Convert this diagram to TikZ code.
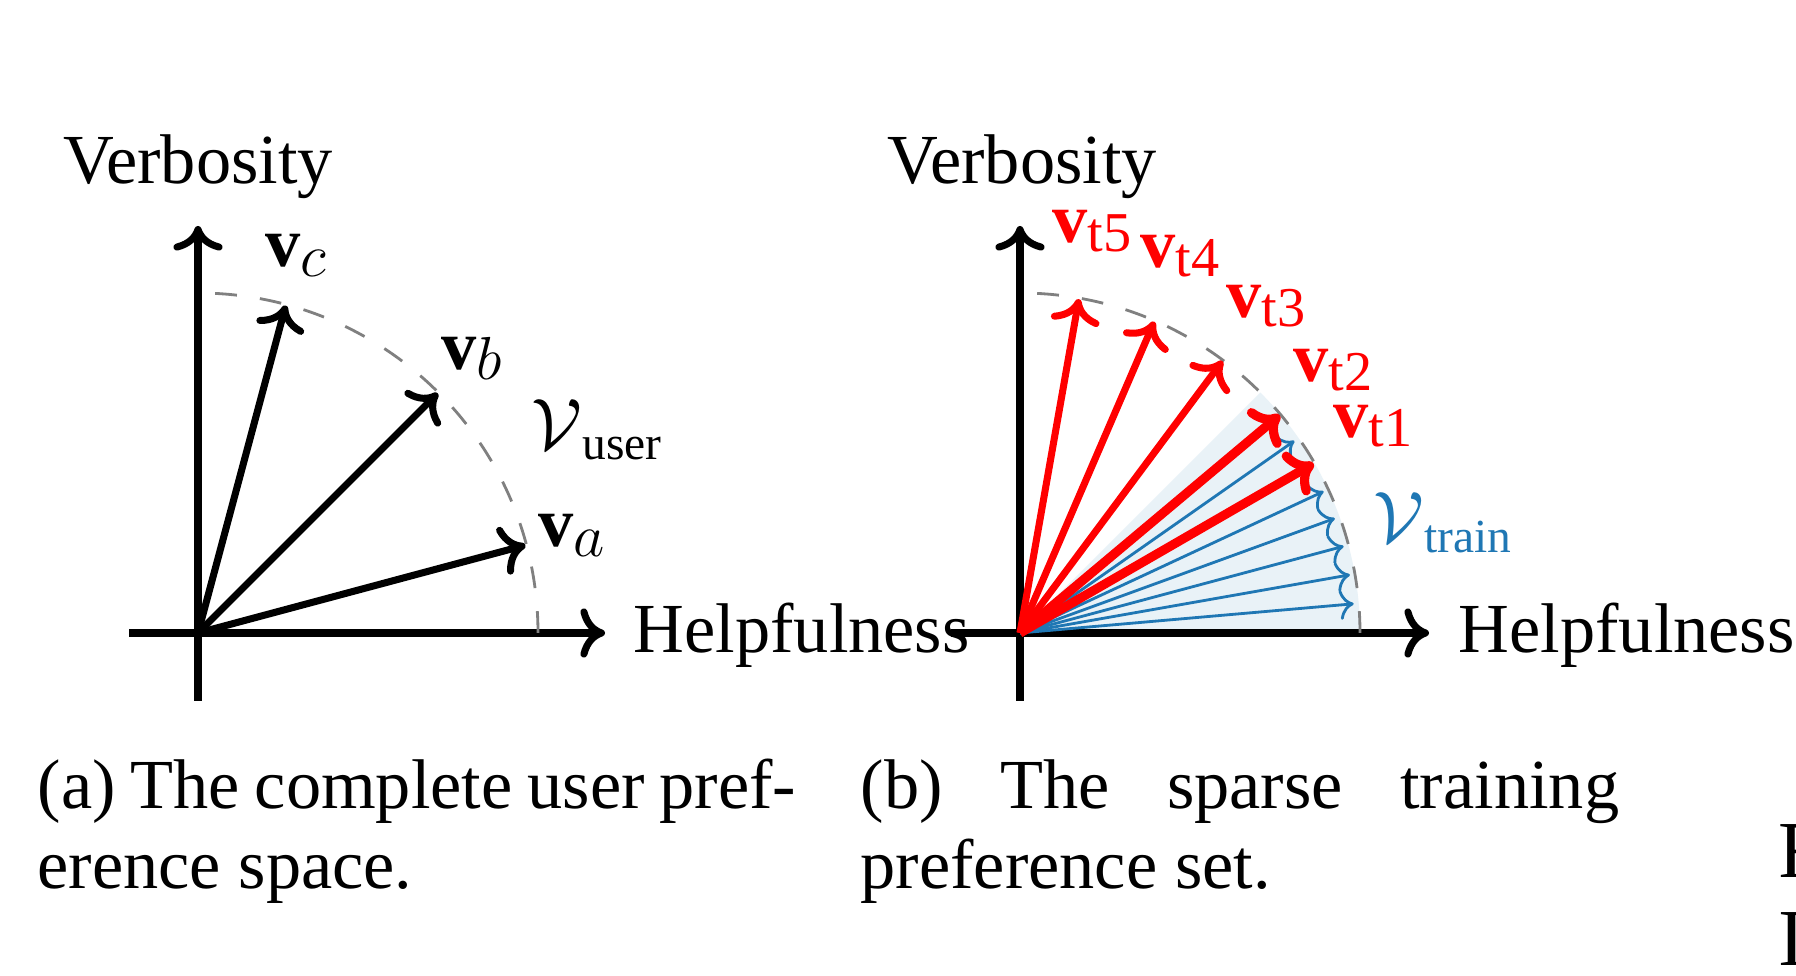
\documentclass[tikz,border=0pt]{standalone}
\usepackage{amsmath}
\usepackage{fontspec}
\setmainfont{Liberation Serif}
\usetikzlibrary{arrows.meta,calc}
\definecolor{tabblue}{RGB}{31,119,180}
\definecolor{shadeblue}{RGB}{233,242,247}
\definecolor{arcgray}{RGB}{128,128,128}
\definecolor{vred}{RGB}{255,0,0}
\newcommand{\vsubr}[1]{\textbf{v}\raisebox{-2.4pt}{\fontsize{16}{16}\selectfont #1}}
\newcommand{\vsubi}[1]{\textbf{v}\raisebox{-2.6pt}{\fontsize{17}{17}\selectfont $#1$}}
\newcommand{\calsub}[1]{$\mathcal{V}$\raisebox{-2.6pt}{\fontsize{13.5}{13.5}\selectfont #1}}
\tikzset{
  axisline/.style={line width=2pt, -{To[length=7pt,width=14pt]}},
  blackvec/.style={line width=2pt, -{To[length=7pt,width=14pt]}},
  redthick/.style={vred, line width=2.6pt, -{To[length=7pt,width=14pt]}},
  redthin/.style={vred, line width=2pt, -{To[length=7pt,width=14pt]}},
  bluevec/.style={tabblue, line width=0.8pt, -{To[length=4pt,width=8.5pt]}},
  arcdash/.style={arcgray, line width=0.8pt, dash pattern=on 6.2pt off 6.6pt},
  lab/.style={inner sep=0pt, anchor=base west, font=\fontsize{20}{24}\selectfont},
  captxt/.style={inner sep=0pt, anchor=base west},
}
\begin{document}
\begin{tikzpicture}[x=0.01cm,y=0.01cm]
\useasboundingbox (0,0) rectangle (1796,976);
\fill[white] (0,0) rectangle (1796,976);

% ---------------- left panel ----------------
\coordinate (O1) at (198,343);
\coordinate (L1s) at (129,343);
\coordinate (L1e) at (605,343);
\coordinate (L1b) at (198,275);
\coordinate (L1t) at (198,750);
\coordinate (A1x) at ($(O1)+(0:340)$);
\draw[axisline] (L1s) -- (L1e);
\draw[axisline] (L1b) -- (L1t);
\draw[arcdash] (A1x) arc[start angle=0,end angle=90,radius=340];
\coordinate (va) at ($(O1)+(15:339)$);
\coordinate (vb) at ($(O1)+(45:339)$);
\coordinate (vc) at ($(O1)+(75:339)$);
\draw[blackvec] (O1) -- (va);
\draw[blackvec] (O1) -- (vb);
\draw[blackvec] (O1) -- (vc);

\node[lab, anchor=base] (verb1) at (198,792) {Verbosity};
\node[lab] (help1) at (633,323) {Helpfulness};
\node[lab] (lvc) at (265,709) {\vsubi{c}};
\node[lab] (lvb) at (441,606) {\vsubi{b}};
\node[lab] (lva) at (538,429) {\vsubi{a}};
\node[lab] (luser) at (531,526) {\calsub{user}};

% ---------------- right panel ----------------
\coordinate (O2) at (1020,343);
\coordinate (R1s) at (951,343);
\coordinate (R1e) at (1429,343);
\coordinate (R1b) at (1020,275);
\coordinate (R1t) at (1020,750);
\coordinate (A2x) at ($(O2)+(0:340)$);
\fill[shadeblue] (O2) -- (A2x) arc[start angle=0,end angle=45,radius=340] -- cycle;
\draw[axisline] (R1s) -- (R1e);
\draw[axisline] (R1b) -- (R1t);
\draw[arcdash] (A2x) arc[start angle=0,end angle=90,radius=340];
\foreach \a in {5,10,...,40}{
  \coordinate (b\a) at ($(O2)+(\a:335)$);
  \draw[bluevec] (O2) -- (b\a);
}
\coordinate (t1) at ($(O2)+(30:339)$);
\coordinate (t2) at ($(O2)+(40:339)$);
\coordinate (t3) at ($(O2)+(53.33:339)$);
\coordinate (t4) at ($(O2)+(66.67:339)$);
\coordinate (t5) at ($(O2)+(80:339)$);
\draw[redthin] (O2) -- (t5);
\draw[redthin] (O2) -- (t4);
\draw[redthin] (O2) -- (t3);
\draw[redthick] (O2) -- (t2);
\draw[redthick] (O2) -- (t1);

\node[lab, anchor=base] (verb2) at (1022,792) {Verbosity};
\node[lab] (help2) at (1458,323) {Helpfulness};
\node[lab, text=vred] (lt5) at (1052,733) {\vsubr{t5}};
\node[lab, text=vred] (lt4) at (1140,708) {\vsubr{t4}};
\node[lab, text=vred] (lt3) at (1226,658) {\vsubr{t3}};
\node[lab, text=vred] (lt2) at (1293,594) {\vsubr{t2}};
\node[lab, text=vred] (lt1) at (1333,538) {\vsubr{t1}};
\node[lab, text=tabblue] (ltrain) at (1373,433) {\calsub{train}};

% ---------------- captions ----------------
\node[captxt] (capa) at (37,167) {\parbox[t]{7.58cm}{\fontsize{20}{22.5}\selectfont\hbadness=10000 (a) The complete user pref-\linebreak erence space.}};
\node[captxt] (capb) at (860,167) {\parbox[t]{7.58cm}{\fontsize{20}{22.5}\selectfont\hbadness=10000 (b) The sparse training\linebreak preference set.}};

% cut-off letters of the next column
\node[captxt, font=\fontsize{23}{23}\selectfont] (edgeF) at (1778,98) {F};
\node[captxt, font=\fontsize{23}{23}\selectfont] (edgeI) at (1778,10) {I};
\end{tikzpicture}
\end{document}
